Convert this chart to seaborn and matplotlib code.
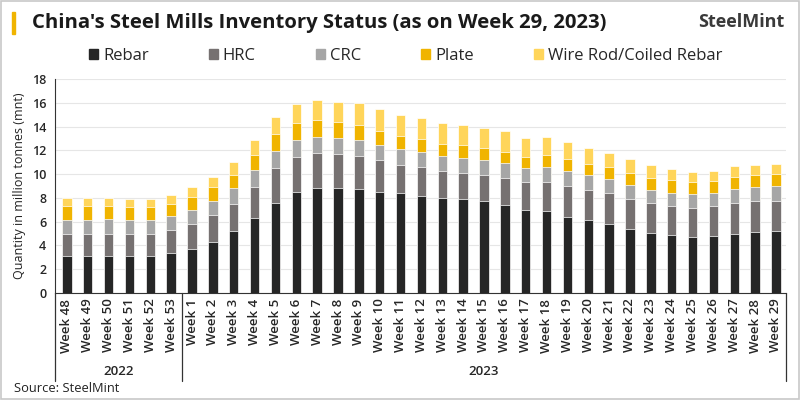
import numpy as np
import pandas as pd
import matplotlib
matplotlib.use("Agg")
import matplotlib.pyplot as plt
from matplotlib.patches import Rectangle
import seaborn as sns

# ---- data (million tonnes) ----
weeks = ["Week 48", "Week 49", "Week 50", "Week 51", "Week 52", "Week 53"] + \
        [f"Week {i}" for i in range(1, 30)]
rebar = [3.10, 3.15, 3.15, 3.15, 3.15, 3.37, 3.74, 4.33, 5.20, 6.30,
         7.56, 8.46, 8.85, 8.82, 8.74, 8.51, 8.37, 8.15, 7.98, 7.92,
         7.70, 7.39, 6.97, 6.88, 6.40, 6.10, 5.79, 5.37, 5.06, 4.92,
         4.69, 4.78, 5.00, 5.11, 5.20]
hrc = [1.90, 1.85, 1.85, 1.85, 1.85, 1.93, 2.07, 2.21, 2.30, 2.63,
       2.94, 2.97, 2.89, 2.87, 2.78, 2.67, 2.42, 2.44, 2.30, 2.19,
       2.22, 2.27, 2.36, 2.45, 2.64, 2.58, 2.58, 2.50, 2.50, 2.41,
       2.44, 2.50, 2.56, 2.59, 2.58]
crc = [1.15, 1.15, 1.20, 1.15, 1.15, 1.20, 1.16, 1.24, 1.35, 1.44,
       1.44, 1.44, 1.38, 1.37, 1.35, 1.26, 1.29, 1.24, 1.24, 1.27,
       1.26, 1.27, 1.20, 1.23, 1.21, 1.21, 1.18, 1.20, 1.09, 1.10,
       1.18, 1.15, 1.18, 1.20, 1.24]
plate = [1.15, 1.15, 1.10, 1.10, 1.10, 1.00, 1.12, 1.12, 1.07, 1.23,
         1.43, 1.46, 1.43, 1.34, 1.29, 1.21, 1.12, 1.09, 1.04, 1.04,
         1.04, 0.95, 0.90, 1.04, 0.99, 0.95, 1.04, 0.99, 1.01, 1.04,
         1.02, 0.98, 1.01, 1.02, 1.01]
wire = [0.65, 0.65, 0.65, 0.62, 0.62, 0.73, 0.81, 0.85, 1.08, 1.27,
        1.43, 1.54, 1.69, 1.67, 1.80, 1.83, 1.80, 1.77, 1.74, 1.68,
        1.66, 1.72, 1.63, 1.52, 1.46, 1.32, 1.15, 1.18, 1.13, 0.95,
        0.87, 0.84, 0.90, 0.84, 0.81]
series = ["Rebar", "HRC", "CRC", "Plate", "Wire Rod/Coiled Rebar"]
colors = ["#262626", "#767171", "#A6A6A6", "#F0B400", "#FFD55A"]
year_groups = [("2022", 0, 5), ("2023", 6, 34)]

df = pd.DataFrame({"week": weeks, "Rebar": rebar, "HRC": hrc, "CRC": crc,
                   "Plate": plate, "Wire Rod/Coiled Rebar": wire})

sns.set_style("white")
plt.rcParams["font.family"] = ["Open Sans", "DejaVu Sans"]

fig = plt.figure(figsize=(8, 4), dpi=100)
ax = fig.add_axes([0.069, 0.2675, 0.914, 0.535])

# stacked bars: draw cumulative totals from the top layer down
cum = df[series].cumsum(axis=1)
for name, col in reversed(list(zip(series, colors))):
    sns.barplot(x=df["week"], y=cum[name], color=col, width=0.45,
                edgecolor="white", linewidth=0.5, ax=ax, saturation=1,
                order=weeks)

ax.set_xlim(-0.56, 34.5)
ax.set_ylim(0, 18)
ax.set_yticks(np.arange(0, 19, 2))
ax.yaxis.grid(True, color="#E6E6E6", linewidth=0.8)
ax.set_axisbelow(True)
ax.set_xlabel("")
ax.set_ylabel("Quantity in million tonnes (mnt)", fontsize=9, color="#222222")
ax.tick_params(axis="y", labelsize=9, length=3, color="#444444")
ax.tick_params(axis="x", labelsize=9.5, length=0, pad=4)
for lbl in ax.get_yticklabels():
    lbl.set_fontweight("semibold")
ax.set_xticks(range(len(weeks)))
ax.set_xticklabels(weeks, rotation=90, fontweight="semibold")
for s in ["top", "right"]:
    ax.spines[s].set_visible(False)
ax.spines["left"].set_color("#333333")
ax.spines["bottom"].set_color("#333333")

# year grouping under the week labels
trans = ax.get_xaxis_transform()
for xpos in [-0.56, 5.5, 34.5]:
    ax.plot([xpos, xpos], [0, -0.41], transform=trans, color="#333333",
            linewidth=0.9, clip_on=False)
for year, start, end in year_groups:
    ax.text((start + end) / 2, -0.365, year, transform=trans, ha="center",
            va="center", fontsize=9.5, fontweight="semibold")

# legend
handles = [Rectangle((0, 0), 1, 1, color=c) for c in colors]
fig.legend(handles, series, loc="center", bbox_to_anchor=(0.507, 0.86),
           ncol=5, frameon=False, fontsize=12, handlelength=0.55,
           handleheight=0.55, handletextpad=0.3, columnspacing=3.6)

# title, logo, source
fig.patches.append(Rectangle((0.015, 0.915), 0.004, 0.055, color="#F0B400",
                             transform=fig.transFigure, figure=fig))
fig.text(0.04, 0.942, "China's Steel Mills Inventory Status (as on Week 29, 2023)",
         fontsize=14.6, fontweight="bold", va="center", color="#1A1A1A")
fig.text(0.98, 0.945, "SteelMint", fontsize=13, fontweight="bold", ha="right",
         va="center", color="#3A3A3A")
fig.text(0.018, 0.028, "Source: SteelMint", fontsize=9.3, va="center",
         color="#222222")

# outer border
fig.patches.append(Rectangle((0.001, 0.002), 0.998, 0.996, fill=False,
                             edgecolor="#C8C8C8", linewidth=1.2,
                             transform=fig.transFigure, figure=fig))

fig.savefig("out.png", dpi=100)
